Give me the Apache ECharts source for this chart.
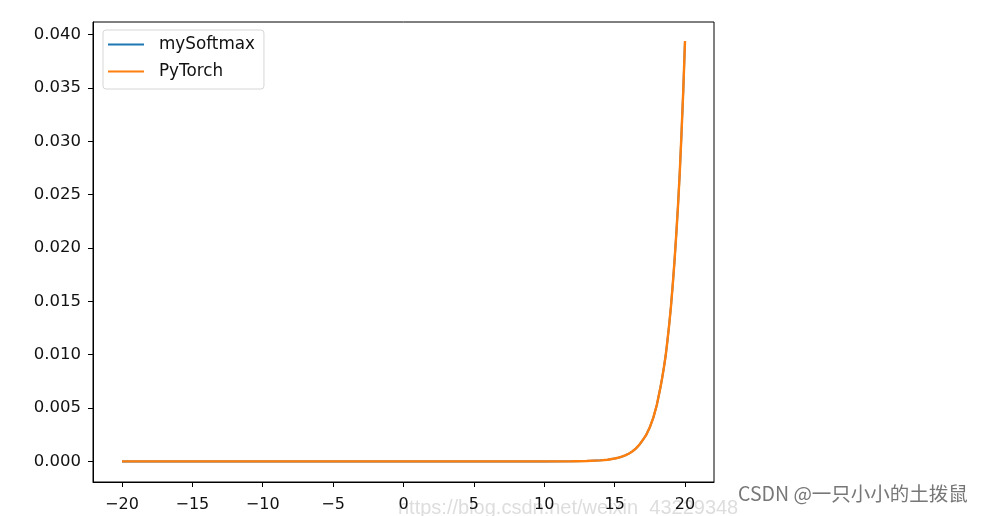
<!DOCTYPE html>
<html lang="en">

<head>
    <meta charset="UTF-8">
    <title>softmax</title>
    <style>
        html, body { margin: 0; padding: 0; background: #fff; }
        #chart { width: 983px; height: 516px; }
    </style>
</head>

<body>
    <div id="chart"></div>

    <script src="https://cdn.jsdelivr.net/npm/echarts@6/dist/echarts.min.js"></script>
    <script>
        // values
        var xs = [-20, -15, -10, -5, 0, 5, 10, 12, 13, 14, 14.5, 15, 15.25, 15.5, 15.75, 16, 16.25, 16.5, 16.75, 17, 17.25, 17.5, 17.75,
            18, 18.125, 18.25, 18.375, 18.5, 18.625, 18.75, 18.875, 19, 19.125, 19.25, 19.375, 19.5, 19.625, 19.75, 19.875, 20];
        var mySoftmax = [0, 0, 0, 0, 0, 0, 0.000002, 0.000013, 0.00004, 0.0001, 0.00016, 0.00027, 0.00034, 0.00044, 0.00056, 0.00072, 0.00093, 0.0012, 0.00155, 0.0020, 0.0025, 0.0032, 0.0041,
            0.0053, 0.0061, 0.0069, 0.0078, 0.0088, 0.0099, 0.0113, 0.0128, 0.0145, 0.0165, 0.0187, 0.0212, 0.0239, 0.0270, 0.0307, 0.0347, 0.0394];
        var pyTorch = [0, 0, 0, 0, 0, 0, 0.000002, 0.000013, 0.00004, 0.0001, 0.00016, 0.00027, 0.00034, 0.00044, 0.00056, 0.00072, 0.00093, 0.0012, 0.00155, 0.0020, 0.0025, 0.0032, 0.0041,
            0.0053, 0.0061, 0.0069, 0.0078, 0.0088, 0.0099, 0.0113, 0.0128, 0.0145, 0.0165, 0.0187, 0.0212, 0.0239, 0.0270, 0.0307, 0.0347, 0.0394];
        var xTicks = [-20, -15, -10, -5, 0, 5, 10, 15, 20];
        var yTicks = [0, 0.005, 0.01, 0.015, 0.02, 0.025, 0.03, 0.035, 0.04];

        function pairs(ys) {
            return xs.map(function (x, i) { return [x, ys[i]]; });
        }

        var font = 'DejaVu Sans';
        var chart = echarts.init(document.getElementById('chart'));

        option = {
            animation: false,
            textStyle: { fontFamily: font },
            grid: {
                left: 93,
                right: 269,
                top: 22,
                bottom: 34,
                show: true,
                borderColor: '#000',
                borderWidth: 1,
                containLabel: false
            },
            legend: {
                orient: 'vertical',
                left: 103,
                top: 30,
                padding: [6, 9, 9, 5],
                itemGap: 10,
                itemWidth: 36,
                itemHeight: 2,
                icon: 'rect',
                backgroundColor: '#fff',
                borderColor: '#d6d6d6',
                borderWidth: 1,
                borderRadius: 3,
                textStyle: { fontFamily: font, fontSize: 16.8, color: '#111', padding: [0, 0, 0, 10] },
                data: ['mySoftmax', 'PyTorch']
            },
            xAxis: {
                type: 'value',
                min: -22.06,
                max: 22.06,
                splitLine: { show: false },
                axisLine: { show: true, onZero: false, lineStyle: { color: '#000' } },
                axisTick: { show: true, inside: false, length: 5, customValues: xTicks, lineStyle: { color: '#000' } },
                axisLabel: {
                    customValues: xTicks,
                    fontFamily: font,
                    fontSize: 16,
                    color: '#111',
                    margin: 15,
                    formatter: function (v) { return String(v).replace('-', '\u2212'); }
                }
            },
            yAxis: {
                type: 'value',
                min: -0.00193,
                max: 0.04118,
                splitLine: { show: false },
                axisLine: { show: true, onZero: false, lineStyle: { color: '#000' } },
                axisTick: { show: true, inside: false, length: 5, customValues: yTicks, lineStyle: { color: '#000' } },
                axisLabel: {
                    customValues: yTicks,
                    fontFamily: font,
                    fontSize: 16.5,
                    color: '#111',
                    margin: 12,
                    formatter: function (v) { return v.toFixed(3); }
                }
            },
            series: [{
                name: 'mySoftmax',
                type: 'line',
                data: pairs(mySoftmax),
                showSymbol: false,
                symbol: 'none',
                lineStyle: { color: '#1f77b4', width: 2 },
                itemStyle: { color: '#1f77b4' }
            }, {
                name: 'PyTorch',
                type: 'line',
                data: pairs(pyTorch),
                showSymbol: false,
                symbol: 'none',
                lineStyle: { color: '#ff7f0e', width: 2.4 },
                itemStyle: { color: '#ff7f0e' }
            }],
            graphic: [{
                type: 'text',
                left: 398,
                top: 498,
                style: {
                    text: 'https://blog.csdn.net/weixin_43229348',
                    font: '20px "Liberation Sans"',
                    fill: 'rgba(170,170,170,0.4)'
                }
            }, {
                type: 'text',
                left: 738,
                top: 484,
                style: {
                    text: 'CSDN @一只小小的土拨鼠',
                    font: '19.5px "Noto Sans CJK SC"',
                    fill: '#777'
                }
            }]
        };

        chart.setOption(option, true);
    </script>
</body>

</html>
